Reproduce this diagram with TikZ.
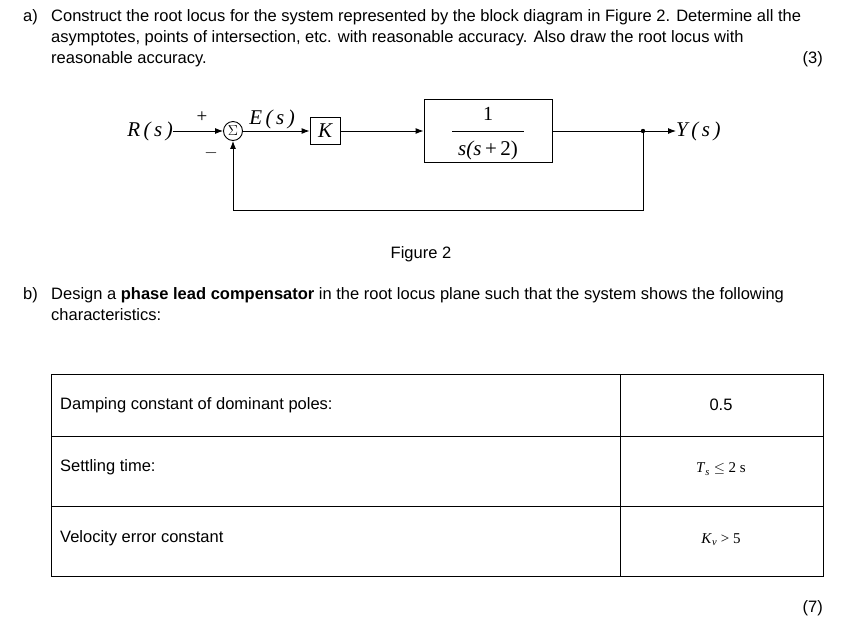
\documentclass[tikz,border=0pt]{standalone}
\usepackage{fontspec}
\setmainfont{Liberation Sans}
\newfontfamily\tms{Liberation Serif}
\usetikzlibrary{arrows.meta}
\begin{document}
\begin{tikzpicture}[x=1pt,y=-1pt,
  txt/.style={anchor=west,inner sep=0,font=\fontsize{16.5}{21}\selectfont,align=left},
  mth/.style={inner sep=0,font=\tms\fontsize{21}{22}\selectfont\itshape},
  arr/.style={-{Latex[length=8pt,width=6pt]},line width=0.9pt},
  ln/.style={line width=0.9pt}]
\useasboundingbox (0,0) rectangle (857,625);
\node[txt,anchor=north west] (qa) at (23,9) {a)};
\node[txt,anchor=north west] (ta) at (51,9) {Construct the root locus for the system represented by the block diagram in Figure 2. Determine all the\\asymptotes, points of intersection, etc. with reasonable accuracy. Also draw the root locus with\\reasonable accuracy.};
\node[txt,anchor=north east] (m3) at (823,51) {(3)};
% block diagram
\node[mth,anchor=east] (R) at (173,131) {R\,(\,s\,)};
\node[draw,circle,ln,minimum size=19pt,inner sep=0,font=\tms\fontsize{14}{14}\selectfont] (S) at (233,131) {$\Sigma$};
\node[mth,anchor=south] (E) at (272,129) {E\,(\,s\,)};
\node[draw,ln,minimum width=30pt,minimum height=27pt,mth,inner sep=0] (K) at (325,131) {K};
\node[draw,ln,minimum width=128pt,minimum height=63pt] (G) at (488,131) {};
\node[inner sep=0,font=\tms\fontsize{20}{22}\selectfont] (num) at (488,114) {1};
\draw[ln] (452,131) -- (524,131);
\node[mth] (den) at (488,150) {s(s\,\upshape+\,2)};
\node[mth,anchor=west] (Y) at (676,131) {Y\,(\,s\,)};
\coordinate (br) at (643,131);
\fill (br) circle (2.2pt);
\node[inner sep=0,font=\tms\fontsize{19}{19}\selectfont] (pl) at (202,117) {+};
\node[inner sep=0,font=\tms\fontsize{19}{19}\selectfont] (mi) at (211,153) {$-$};
\draw[arr] (R) -- (S);
\draw[arr] (S) -- (K);
\draw[arr] (K) -- (G);
\draw[ln] (G) -- (br);
\draw[arr] (br) -- (Y);
\draw[arr] (br) -- (643,210) -| (S);
\node[txt,anchor=center] (fig) at (421,254) {Figure 2};
\node[txt,anchor=north west] (qb) at (23,287) {b)};
\node[txt,anchor=north west] (tb) at (51,287) {Design a \textbf{phase lead compensator} in the root locus plane such that the system shows the following\\characteristics:};
% table
\draw[ln] (51,374) rectangle (823,576);
\draw[ln] (51,436) -- (823,436);
\draw[ln] (51,506) -- (823,506);
\draw[ln] (620,374) -- (620,576);
\node[txt] (c1) at (60,405) {Damping constant of dominant poles:};
\node[txt] (c2) at (60,467) {Settling time:};
\node[txt] (c3) at (60,538) {Velocity error constant};
\node[txt,anchor=center] (v1) at (721,405) {0.5};
\node[inner sep=0,font=\tms\fontsize{15}{16}\selectfont] (v2) at (721,469) {\textit{T}\textsubscript{\textit{s}} $\le$ 2 s};
\node[inner sep=0,font=\tms\fontsize{15}{16}\selectfont] (v3) at (721,540) {\textit{K}\textsubscript{\textit{v}} > 5};
\node[txt,anchor=north east] (m7) at (823,600) {(7)};
\end{tikzpicture}
\end{document}
